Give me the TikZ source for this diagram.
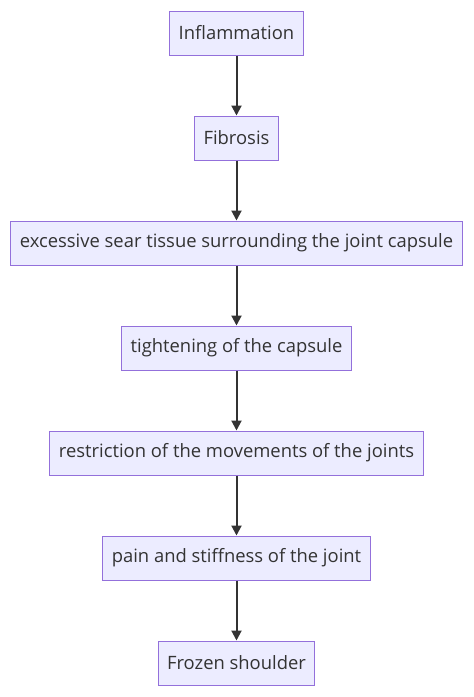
\documentclass[tikz,border=0pt]{standalone}
\usepackage{fontspec}
\setmainfont{Open Sans}
\usetikzlibrary{positioning,arrows.meta}
\definecolor{boxfill}{HTML}{ECECFF}
\definecolor{boxline}{HTML}{9370DB}
\definecolor{ink}{HTML}{333333}
\begin{document}
\begin{tikzpicture}[x=1pt,y=1pt,
		stepbox/.style={draw=boxline,fill=boxfill,text=ink,line width=1pt,minimum height=44pt,inner xsep=9pt,font=\fontsize{18.4}{21}\selectfont},
		flow/.style={draw=ink,line width=2pt,-{Triangle[length=10pt,width=10pt]}},
		node distance=60pt]
		\useasboundingbox (0,0) rectangle (474,-697);
		\node[stepbox] (inflam) at (236.5,-33) {Inflammation};
		\node[stepbox,below=of inflam] (fibro) {Fibrosis};
		\node[stepbox,below=of fibro] (scar) {excessive sear tissue surrounding the joint capsule};
		\node[stepbox,below=of scar] (tight) {tightening of the capsule};
		\node[stepbox,below=of tight] (restr) {restriction of the movements of the joints};
		\node[stepbox,below=of restr] (pain) {pain and stiffness of the joint};
		\node[stepbox,below=of pain] (frozen) {Frozen shoulder};
		\draw[flow] (inflam) -- (fibro);
		\draw[flow] (fibro) -- (scar);
		\draw[flow] (scar) -- (tight);
		\draw[flow] (tight) -- (restr);
		\draw[flow] (restr) -- (pain);
		\draw[flow] (pain) -- (frozen);
\end{tikzpicture}
\end{document}
